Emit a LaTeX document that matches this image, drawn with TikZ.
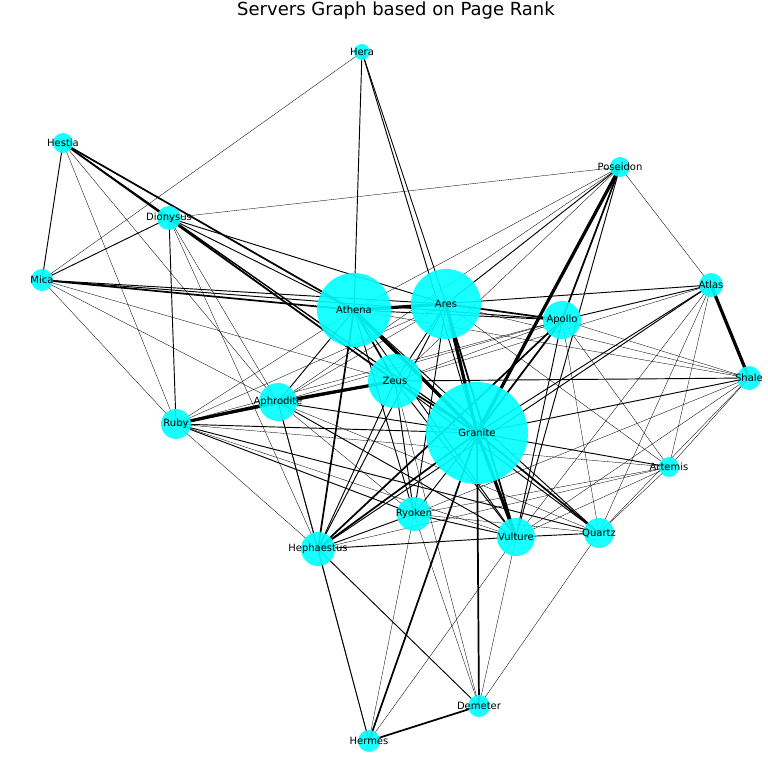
\documentclass[tikz,border=0pt]{standalone}
\usepackage{fontspec}
\setmainfont{DejaVu Sans}
\usetikzlibrary{backgrounds}
\definecolor{cy}{RGB}{0,255,255}
\begin{document}
\begin{tikzpicture}[x=0.75pt,y=-0.75pt,
  v/.style={circle,fill=cy,fill opacity=0.9,draw=none,inner sep=0pt,
    label={[font=\fontsize{7.5}{7.5}\selectfont,inner sep=0pt]center:#1}},
  t/.style={line width=0.25pt},m/.style={line width=0.7pt},k/.style={line width=1.3pt},K/.style={line width=2.4pt}]
\useasboundingbox (0,0) rectangle (768,757);
\node[font=\fontsize{13.5}{13.5}\selectfont] (title) at (396,11) {Servers Graph based on Page Rank};
\node[v=Hera,minimum size=12pt] (Hera) at (362,52) {};
\node[v=Hestia,minimum size=15pt] (Hestia) at (63,143) {};
\node[v=Poseidon,minimum size=15pt] (Poseidon) at (620,167) {};
\node[v=Dionysus,minimum size=18pt] (Dionysus) at (169,218) {};
\node[v=Mica,minimum size=16.5pt] (Mica) at (42,280) {};
\node[v=Atlas,minimum size=18pt] (Atlas) at (711,285) {};
\node[v=Athena,minimum size=55.5pt] (Athena) at (354,310) {};
\node[v=Ares,minimum size=52.5pt] (Ares) at (446,304) {};
\node[v=Apollo,minimum size=28.5pt] (Apollo) at (562,320) {};
\node[v=Zeus,minimum size=40.5pt] (Zeus) at (395,381) {};
\node[v=Shale,minimum size=18pt] (Shale) at (749,378) {};
\node[v=Aphrodite,minimum size=28.5pt] (Aphrodite) at (278,402) {};
\node[v=Ruby,minimum size=22.5pt] (Ruby) at (176,424) {};
\node[v=Granite,minimum size=76.5pt] (Granite) at (477,433) {};
\node[v=Artemis,minimum size=15pt] (Artemis) at (669,467) {};
\node[v=Ryoken,minimum size=25.5pt] (Ryoken) at (414,514) {};
\node[v=Vulture,minimum size=28.5pt] (Vulture) at (516,537) {};
\node[v=Quartz,minimum size=22.5pt] (Quartz) at (599,533) {};
\node[v=Hephaestus,minimum size=25.5pt] (Hephaestus) at (318,549) {};
\node[v=Demeter,minimum size=16.5pt] (Demeter) at (479,706) {};
\node[v=Hermes,minimum size=16.5pt] (Hermes) at (369,741) {};
\def\E#1#2#3{\draw[#1] (#2.center) -- (#3.center);}
\begin{pgfonlayer}{background}
\E{m}{Hera}{Athena}\E{m}{Hera}{Ares}\E{m}{Hera}{Granite}\E{t}{Hera}{Mica}
\E{m}{Hestia}{Mica}\E{k}{Hestia}{Athena}\E{k}{Hestia}{Zeus}\E{t}{Hestia}{Ruby}\E{t}{Hestia}{Aphrodite}\E{m}{Hestia}{Granite}\E{t}{Hestia}{Dionysus}
\E{m}{Dionysus}{Mica}\E{m}{Dionysus}{Athena}\E{m}{Dionysus}{Ares}\E{m}{Dionysus}{Ruby}\E{t}{Dionysus}{Aphrodite}\E{m}{Dionysus}{Granite}\E{t}{Dionysus}{Zeus}\E{t}{Dionysus}{Hephaestus}\E{t}{Dionysus}{Poseidon}
\E{k}{Mica}{Athena}\E{m}{Mica}{Ares}\E{t}{Mica}{Zeus}\E{t}{Mica}{Ruby}\E{t}{Mica}{Aphrodite}\E{m}{Mica}{Apollo}
\E{K}{Poseidon}{Granite}\E{m}{Poseidon}{Vulture}\E{t}{Poseidon}{Zeus}\E{m}{Poseidon}{Ares}\E{t}{Poseidon}{Athena}\E{t}{Poseidon}{Atlas}\E{t}{Poseidon}{Aphrodite}\E{k}{Poseidon}{Apollo}
\E{K}{Atlas}{Shale}\E{m}{Atlas}{Athena}\E{m}{Atlas}{Apollo}\E{m}{Atlas}{Granite}\E{m}{Atlas}{Hephaestus}\E{t}{Atlas}{Quartz}\E{t}{Atlas}{Vulture}\E{t}{Atlas}{Artemis}\E{t}{Atlas}{Zeus}
\E{K}{Athena}{Ares}\E{k}{Athena}{Zeus}\E{K}{Athena}{Granite}\E{m}{Athena}{Apollo}\E{m}{Athena}{Aphrodite}\E{k}{Athena}{Hephaestus}\E{t}{Athena}{Ruby}\E{m}{Athena}{Ryoken}\E{m}{Athena}{Vulture}\E{m}{Athena}{Quartz}\E{t}{Athena}{Shale}
\E{m}{Ares}{Zeus}\E{K}{Ares}{Granite}\E{k}{Ares}{Apollo}\E{t}{Ares}{Aphrodite}\E{t}{Ares}{Ruby}\E{m}{Ares}{Ryoken}\E{k}{Ares}{Vulture}\E{m}{Ares}{Hephaestus}\E{t}{Ares}{Shale}\E{t}{Ares}{Artemis}
\E{k}{Apollo}{Granite}\E{t}{Apollo}{Zeus}\E{k}{Apollo}{Hephaestus}\E{t}{Apollo}{Ruby}\E{m}{Apollo}{Vulture}\E{t}{Apollo}{Shale}\E{t}{Apollo}{Artemis}\E{t}{Apollo}{Quartz}\E{t}{Apollo}{Aphrodite}
\E{k}{Zeus}{Granite}\E{K}{Zeus}{Aphrodite}\E{m}{Zeus}{Ruby}\E{m}{Zeus}{Ryoken}\E{m}{Zeus}{Hephaestus}\E{m}{Zeus}{Vulture}\E{m}{Zeus}{Quartz}\E{m}{Zeus}{Shale}\E{t}{Zeus}{Demeter}
\E{m}{Shale}{Granite}\E{t}{Shale}{Artemis}\E{t}{Shale}{Quartz}\E{t}{Shale}{Vulture}\E{t}{Shale}{Ryoken}
\E{K}{Aphrodite}{Ruby}\E{m}{Aphrodite}{Granite}\E{t}{Aphrodite}{Ryoken}\E{m}{Aphrodite}{Vulture}\E{m}{Aphrodite}{Hephaestus}\E{t}{Aphrodite}{Hermes}\E{t}{Aphrodite}{Quartz}
\E{m}{Ruby}{Granite}\E{m}{Ruby}{Ryoken}\E{t}{Ruby}{Artemis}\E{m}{Ruby}{Quartz}\E{t}{Ruby}{Hephaestus}\E{t}{Ruby}{Vulture}
\E{m}{Granite}{Artemis}\E{m}{Granite}{Ryoken}\E{K}{Granite}{Vulture}\E{k}{Granite}{Quartz}\E{k}{Granite}{Hephaestus}\E{k}{Granite}{Hermes}\E{k}{Granite}{Demeter}
\E{t}{Artemis}{Vulture}\E{t}{Artemis}{Quartz}\E{t}{Artemis}{Ryoken}\E{t}{Artemis}{Hephaestus}
\E{m}{Ryoken}{Vulture}\E{m}{Ryoken}{Hephaestus}\E{t}{Ryoken}{Demeter}\E{t}{Ryoken}{Hermes}\E{t}{Ryoken}{Quartz}
\E{m}{Vulture}{Quartz}\E{m}{Vulture}{Hephaestus}\E{t}{Vulture}{Demeter}\E{t}{Vulture}{Hermes}
\E{t}{Quartz}{Demeter}
\E{m}{Hephaestus}{Hermes}\E{m}{Hephaestus}{Demeter}
\E{k}{Hermes}{Demeter}
\end{pgfonlayer}
\end{tikzpicture}
\end{document}
